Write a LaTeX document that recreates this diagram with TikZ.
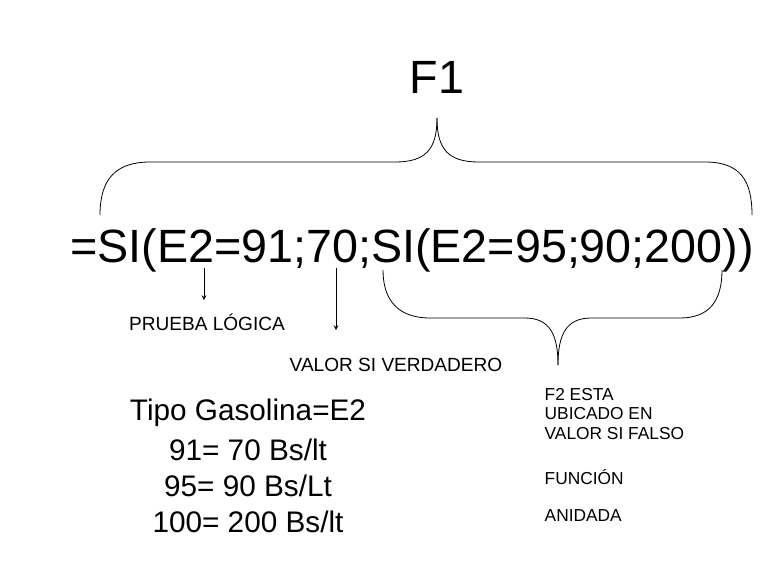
\documentclass[tikz,border=0pt]{standalone}
\usepackage{fontspec}
\setmainfont{Liberation Sans}
\begin{document}
\begin{tikzpicture}[x=0.75pt,y=-0.75pt,
  big/.style={font=\fontsize{35}{38}\selectfont},
  mid/.style={font=\fontsize{22.3}{24}\selectfont},
  small/.style={font=\fontsize{14.3}{16}\selectfont},
  rsmall/.style={font=\fontsize{13}{15}\selectfont},
  br/.style={line width=0.6pt}]
\useasboundingbox (0,0) rectangle (768,576);
\node[big] (f1) at (437,77) {F1};
\node[big] (formula) at (412,250) {=SI(E2=91;70;SI(E2=95;90;200))};
\draw[br] (100,215) .. controls (100,180) and (115,162) .. (150,162) -- (395,162) .. controls (425,162) and (437,150) .. (437,118);
\draw[br] (437,118) .. controls (437,150) and (449,162) .. (479,162) -- (705,162) .. controls (740,162) and (752,180) .. (752,215);
\draw[br] (383,270) .. controls (383,300) and (398,318) .. (430,318) -- (525,318) .. controls (550,318) and (558,335) .. (558,365);
\draw[br] (558,365) .. controls (558,335) and (566,318) .. (591,318) -- (680,318) .. controls (710,318) and (722,300) .. (722,270);
\coordinate (a1) at (204,268); \coordinate (a2) at (204,300);
\coordinate (b1) at (336,268); \coordinate (b2) at (336,330);
\draw[->,>=stealth,line width=0.6pt] (a1) -- (a2);
\draw[->,>=stealth,line width=0.6pt] (b1) -- (b2);
\node[small] (pl) at (207,322) {PRUEBA LÓGICA};
\node[small] (vv) at (396,365) {VALOR SI VERDADERO};
\node[rsmall,anchor=west] (r1) at (540,395) {F2 ESTA};
\node[rsmall,anchor=west] (r2) at (540,414) {UBICADO EN};
\node[rsmall,anchor=west] (r3) at (540,434) {VALOR SI FALSO};
\node[rsmall,anchor=west] (r4) at (540,477) {FUNCIÓN};
\node[rsmall,anchor=west] (r5) at (540,516) {ANIDADA};
\node[mid] (t1) at (248,413) {Tipo Gasolina=E2};
\node[mid] (t2) at (248,450) {91= 70 Bs/lt};
\node[mid] (t3) at (248,486) {95= 90 Bs/Lt};
\node[mid] (t4) at (248,522) {100= 200 Bs/lt};
\end{tikzpicture}
\end{document}
